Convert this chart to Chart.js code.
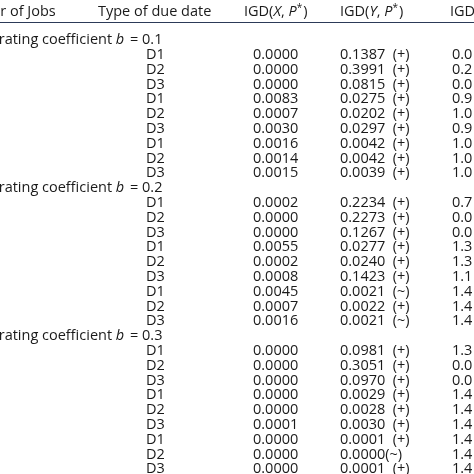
<!DOCTYPE html>
<html><head><meta charset="utf-8">
<script src="https://cdn.jsdelivr.net/npm/chart.js@4"></script>
<style>html,body{margin:0;background:#fff}#c{display:block}</style>
</head><body>
<div style="width:474px;height:474px"><canvas id="c"></canvas></div>
<script>
const INK = "#1a1a1a";
const coefficients = ["0.1", "0.2", "0.3"];
const dueTypes = ["D1", "D2", "D3", "D1", "D2", "D3", "D1", "D2", "D3"];
const igdX = [
  ["0.0000","0.0000","0.0000","0.0083","0.0007","0.0030","0.0016","0.0014","0.0015"],
  ["0.0002","0.0000","0.0000","0.0055","0.0002","0.0008","0.0045","0.0007","0.0016"],
  ["0.0000","0.0000","0.0000","0.0000","0.0000","0.0001","0.0000","0.0000","0.0000"]
];
const igdY = [
  ["0.1387 (+)","0.3991 (+)","0.0815 (+)","0.0275 (+)","0.0202 (+)","0.0297 (+)","0.0042 (+)","0.0042 (+)","0.0039 (+)"],
  ["0.2234 (+)","0.2273 (+)","0.1267 (+)","0.0277 (+)","0.0240 (+)","0.1423 (+)","0.0021 (~)","0.0022 (+)","0.0021 (~)"],
  ["0.0981 (+)","0.3051 (+)","0.0970 (+)","0.0029 (+)","0.0028 (+)","0.0030 (+)","0.0001 (+)","0.0000(~)","0.0001 (+)"]
];
// third column is cut off at the right edge: only the visible part is kept
const igdZ = [
  ["0.0","0.2","0.0","0.9","1.0","0.9","1.0","1.0","1.0"],
  ["0.7","0.0","0.0","1.3","1.3","1.1","1.4","1.4","1.4"],
  ["1.3","0.0","0.0","1.4","1.4","1.4","1.4","1.4","1.4"]
];

const FONT = "14.5px 'Open Sans', sans-serif";
const ITAL = "italic 14.5px 'Open Sans', sans-serif";
const ROW0 = 40, STEP = 14.8;

function igdHeader(ctx, x, y, v) {
  const parts = [["IGD(", FONT], [v, ITAL], [", ", FONT], ["P", ITAL], ["*", "10px 'Open Sans', sans-serif", -4], [")", FONT]];
  parts.forEach(([t, f, dy]) => { ctx.font = f; ctx.fillText(t, x, y + (dy || 0)); x += ctx.measureText(t).width + (t === "*" ? 1 : 0); });
}

const TablePlugin = {
  id: "tablePlugin",
  afterDraw(chart) {
    const { ctx } = chart, sx = chart.scales.x, sy = chart.scales.y;
    const X = v => sx.getPixelForValue(v), Y = v => sy.getPixelForValue(v);
    ctx.save();
    ctx.fillStyle = INK;
    ctx.textBaseline = "middle";
    ctx.font = FONT;
    ctx.fillText("Number of Jobs", X(-50), Y(12));
    ctx.fillText("Type of due date", X(98), Y(12));
    igdHeader(ctx, X(244), Y(12), "X");
    igdHeader(ctx, X(340), Y(12), "Y");
    igdHeader(ctx, X(450), Y(12), "Z");
    ctx.strokeStyle = "#2c3a58";
    ctx.lineWidth = 1;
    ctx.beginPath(); ctx.moveTo(X(0), Y(22.5)); ctx.lineTo(X(474), Y(22.5)); ctx.stroke();
    let r = 0;
    coefficients.forEach((b, s) => {
      const yt = Y(ROW0 + r * STEP);
      ctx.font = FONT;
      let x = X(-37);
      const t1 = "Generating coefficient ";
      ctx.fillText(t1, x, yt); x += ctx.measureText(t1).width;
      ctx.font = ITAL; ctx.fillText("b", x, yt); x += ctx.measureText("b").width;
      ctx.font = FONT; ctx.fillText(" = " + b, x + 2, yt);
      r++;
      dueTypes.forEach((d, i) => {
        const y = Y(ROW0 + r * STEP);
        ctx.fillText(d, X(146), y);
        ctx.fillText(igdX[s][i], X(253), y);
        ctx.fillText(igdY[s][i].replace(" (", "  ("), X(340), y);
        ctx.fillText(igdZ[s][i], X(452), y);
        r++;
      });
    });
    ctx.restore();
  }
};

new Chart(document.getElementById("c"), {
  type: "scatter",
  data: { datasets: [{ data: [] }] },
  options: {
    responsive: true, maintainAspectRatio: false, animation: false,
    layout: { padding: 0 },
    plugins: { legend: { display: false }, tooltip: { enabled: false } },
    scales: {
      x: { type: "linear", min: 0, max: 474, display: false },
      y: { type: "linear", min: 0, max: 474, reverse: true, display: false }
    }
  },
  plugins: [TablePlugin]
});
</script>
</body></html>
